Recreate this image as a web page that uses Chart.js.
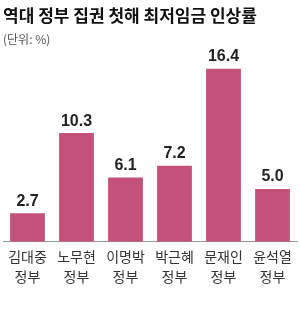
<!DOCTYPE html>
<html>
<head>
<meta charset="utf-8">
<script src="https://cdn.jsdelivr.net/npm/chart.js@4"></script>
<style>
  html, body { margin: 0; padding: 0; background: #fff; }
  #wrap { width: 300px; height: 318px; position: relative; }
</style>
</head>
<body>
<div id="wrap"><canvas id="myChart"></canvas></div>
<script>
  // datos
  const categories = [
    ['김대중', '정부'],
    ['노무현', '정부'],
    ['이명박', '정부'],
    ['박근혜', '정부'],
    ['문재인', '정부'],
    ['윤석열', '정부']
  ];
  const values = [2.7, 10.3, 6.1, 7.2, 16.4, 5.0];

  const titleText = '역대 정부 집권 첫해 최저임금 인상률';
  const unitText = '(단위: %)';

  // etiquetas encima de las barras
  const valueLabels = {
    id: 'valueLabels',
    afterDatasetsDraw(chart) {
      const ctx = chart.ctx;
      const meta = chart.getDatasetMeta(0);
      ctx.save();
      ctx.font = 'bold 16px "Liberation Sans", Arial, sans-serif';
      ctx.fillStyle = '#222';
      ctx.textAlign = 'center';
      ctx.textBaseline = 'bottom';
      meta.data.forEach((bar, i) => {
        ctx.fillText(values[i].toFixed(1), bar.x, bar.y - 4);
      });
      ctx.restore();
    }
  };

  const config = {
    type: 'bar',
    data: {
      labels: categories,
      datasets: [{
        data: values,
        backgroundColor: '#C4517A',
        borderWidth: 0,
        barPercentage: 0.71,
        categoryPercentage: 1
      }]
    },
    options: {
      responsive: true,
      maintainAspectRatio: false,
      animation: false,
      layout: {
        padding: { left: 3, right: 3, top: 0, bottom: 27 }
      },
      plugins: {
        legend: { display: false },
        tooltip: { enabled: false },
        title: {
          display: true,
          text: titleText,
          align: 'start',
          color: '#111',
          font: { family: '"Noto Sans CJK KR"', size: 17, weight: 'bold' },
          padding: { top: 5, bottom: 7 }
        },
        subtitle: {
          display: true,
          text: unitText,
          align: 'start',
          color: '#555',
          font: { family: '"Noto Sans CJK KR"', size: 12 },
          padding: { top: 0, bottom: 4 }
        }
      },
      scales: {
        x: {
          grid: { display: false, drawTicks: false },
          border: { display: true, color: '#999', width: 1 },
          ticks: {
            color: '#333',
            padding: 5,
            font: { family: '"Noto Sans CJK KR"', size: 14, lineHeight: 1.4 },
            autoSkip: false,
            maxRotation: 0
          }
        },
        y: {
          display: false,
          min: 0,
          max: 18.1
        }
      }
    },
    plugins: [valueLabels]
  };

  const myChart = new Chart(document.getElementById('myChart'), config);
</script>
</body>
</html>
